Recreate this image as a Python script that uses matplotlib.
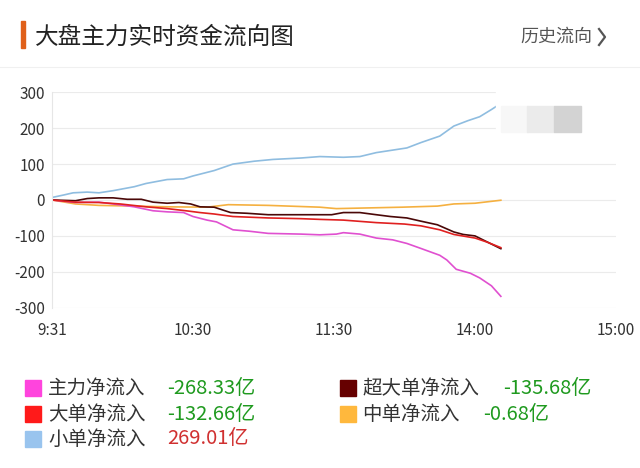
import matplotlib
matplotlib.use("Agg")
import matplotlib.pyplot as plt
from matplotlib.patches import Rectangle
from matplotlib.lines import Line2D

plt.rcParams['font.family'] = ['Noto Sans CJK SC', 'DejaVu Sans']

# minutes of trading since 9:30 (midday break removed) and values in 亿
t_small = [0, 5, 9, 15, 20, 26, 35, 40, 49, 56, 60, 69, 77, 86, 94, 106, 114, 124, 131, 138, 145, 151, 157, 165, 171, 177, 182, 187, 191]
v_small = [7, 14, 20, 22, 20, 26, 37, 46, 57, 59, 67, 82, 100, 108, 113, 117, 121, 119, 121, 132, 139, 145, 160, 178, 206, 221, 232, 252, 269.01]

t_main = [0, 10, 20, 26, 35, 43, 49, 56, 60, 66, 70, 77, 84, 92, 106, 114, 121, 124, 131, 138, 145, 151, 157, 165, 168, 172, 178, 182, 187, 191]
v_main = [0, -7, -6, -11, -19, -30, -33, -35, -46, -56, -61, -83, -87, -93, -95, -97, -95, -91, -95, -106, -111, -121, -135, -154, -167, -193, -204, -217, -239, -268.33]

t_xl = [0, 10, 15, 20, 26, 32, 38, 43, 49, 54, 59, 63, 69, 76, 83, 92, 106, 114, 119, 124, 131, 138, 144, 151, 157, 164, 171, 175, 180, 184, 191]
v_xl = [0, -2, 4, 6, 6, 2, 2, -6, -9, -7, -11, -19, -20, -35, -37, -41, -41, -41, -41, -35, -35, -41, -46, -50, -59, -69, -89, -96, -100, -113, -135.68]

t_large = [0, 10, 20, 29, 40, 49, 57, 63, 69, 77, 92, 106, 114, 124, 138, 150, 157, 165, 171, 180, 185, 191]
v_large = [0, -6, -7, -11, -19, -24, -30, -35, -39, -46, -50, -52, -54, -56, -63, -67, -72, -83, -96, -106, -117, -132.66]

t_mid = [0, 10, 20, 35, 49, 66, 75, 92, 114, 121, 135, 149, 164, 171, 180, 191]
v_mid = [0, -11, -15, -17, -19, -20, -13, -15, -20, -24, -22, -20, -17, -11, -9, -0.68]

x_ticks = [0, 60, 120, 180, 240]
x_labels = ['9:31', '10:30', '11:30', '14:00', '15:00']
y_ticks = [-300, -200, -100, 0, 100, 200, 300]

legend_names = ['主力净流入', '大单净流入', '小单净流入', '超大单净流入', '中单净流入']
legend_values = ['-268.33亿', '-132.66亿', '269.01亿', '-135.68亿', '-0.68亿']

W, H = 640, 468
fig = plt.figure(figsize=(6.4, 4.68), dpi=100)

def fx(px):
    return px / W

def fy(py):
    return 1 - py / H

# header
fig.add_artist(Rectangle((fx(21), fy(48)), 4 / W, 27 / H, color='#e0601a',
                         transform=fig.transFigure))
fig.text(fx(35), fy(37), '大盘主力实时资金流向图', fontsize=17, color='#222222',
         ha='left', va='center')
fig.text(fx(520), fy(37), '历史流向', fontsize=13, color='#555555',
         ha='left', va='center')
fig.add_artist(Line2D([fx(599), fx(605), fx(599)], [fy(29), fy(37), fy(45)],
                      color='#555555', lw=1.6, transform=fig.transFigure))
fig.add_artist(Line2D([0, 1], [fy(67), fy(67)], color='#f0f0f0', lw=0.8,
                      transform=fig.transFigure))

# chart
ax = fig.add_axes([fx(52), fy(307.7), (616 - 52) / W, (307.7 - 92.3) / H])
ax.set_xlim(0, 240)
ax.set_ylim(-300, 300)
for v in y_ticks:
    ax.axhline(v, color='#ebebeb', lw=0.8, zorder=0)
for s in ['top', 'right', 'bottom']:
    ax.spines[s].set_visible(False)
ax.spines['left'].set_color('#e6e6e6')
ax.spines['left'].set_linewidth(0.8)

ax.plot(t_small, v_small, color='#8fbde0', lw=1.2)
ax.plot(t_mid, v_mid, color='#f5b040', lw=1.2)
ax.plot(t_main, v_main, color='#e050d0', lw=1.2)
ax.plot(t_xl, v_xl, color='#4a0808', lw=1.2)
ax.plot(t_large, v_large, color='#e02020', lw=1.2)

ax.set_xticks(x_ticks)
ax.set_xticklabels(x_labels)
ax.set_yticks(y_ticks)
ax.set_yticklabels([str(v) for v in y_ticks])
ax.tick_params(axis='both', length=0, labelsize=11, labelcolor='#333333')
ax.tick_params(axis='x', pad=10)
ax.tick_params(axis='y', pad=5)

# masked area near top right
fig.add_artist(Rectangle((fx(496), fy(134)), 124 / W, 54 / H, color='white',
                         transform=fig.transFigure, zorder=5))
for x0, c in [(501, '#f7f7f7'), (527, '#ebebeb'), (554, '#d3d3d3')]:
    fig.add_artist(Rectangle((fx(x0), fy(132)), 26.5 / W, 26 / H, color=c,
                             transform=fig.transFigure, zorder=6))

# legend
sq_colors = ['#ff44dd', '#ff1a1a', '#99c4ee', '#660000', '#ffb83d']
val_colors = ['#1f9a1f', '#1f9a1f', '#d03030', '#1f9a1f', '#1f9a1f']
rows = [388, 414, 439, 388, 414]
sq_x = [25, 25, 25, 340, 340]
lab_x = [48, 48, 48, 362, 362]
val_x = [167, 167, 167, 503, 483]
for i in range(len(legend_names)):
    y = rows[i]
    fig.add_artist(Rectangle((fx(sq_x[i]), fy(y + 8)), 15.5 / W, 16 / H,
                             color=sq_colors[i], transform=fig.transFigure))
    fig.text(fx(lab_x[i]), fy(y), legend_names[i], fontsize=14, color='#333333',
             ha='left', va='center')
    fig.text(fx(val_x[i]), fy(y), legend_values[i], fontsize=14.5,
             color=val_colors[i], ha='left', va='center')

fig.savefig('out.png', dpi=100, facecolor='white')
